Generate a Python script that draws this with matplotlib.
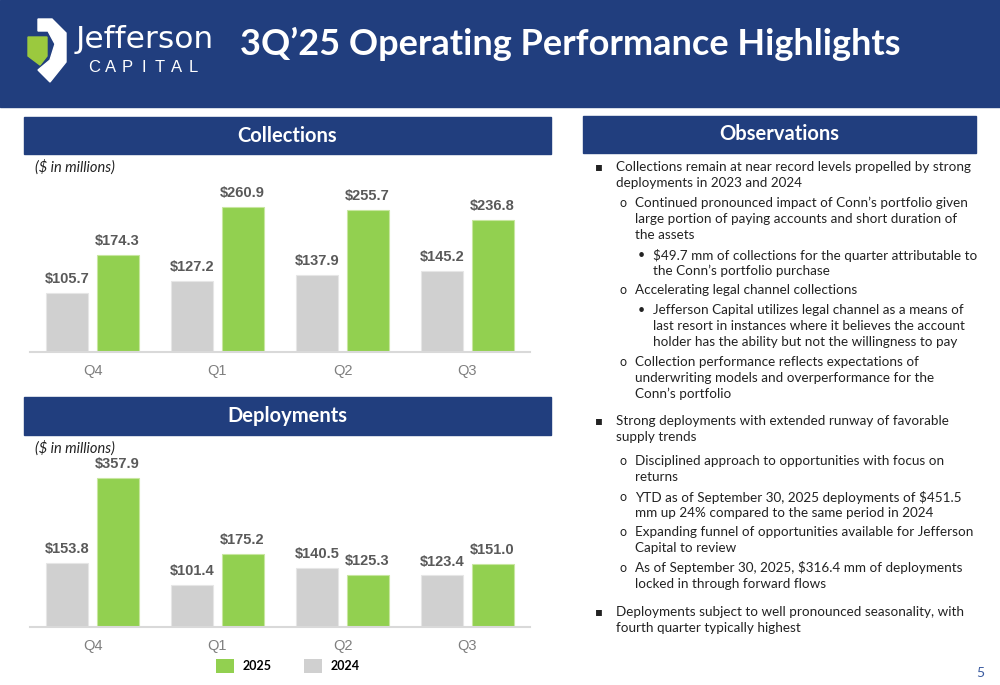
import matplotlib
matplotlib.use("Agg")
import matplotlib.pyplot as plt
from matplotlib.patches import Rectangle, Polygon

# ---- data ----
quarters = ["Q4", "Q1", "Q2", "Q3"]
coll_2024 = [105.7, 127.2, 137.9, 145.2]
coll_2025 = [174.3, 260.9, 255.7, 236.8]
depl_2024 = [153.8, 101.4, 140.5, 123.4]
depl_2025 = [357.9, 175.2, 125.3, 151.0]
series_names = ["2025", "2024"]

title = "3Q\u201925 Operating Performance Highlights"

# (level, lines, y of first line in px)
observations = [
    (0, ["Collections remain at near record levels propelled by strong",
         "deployments in 2023 and 2024"], 167),
    (1, ["Continued pronounced impact of Conn\u2019s portfolio given",
         "large portion of paying accounts and short duration of",
         "the assets"], 203),
    (2, ["$49.7 mm of collections for the quarter attributable to",
         "the Conn\u2019s portfolio purchase"], 255),
    (1, ["Accelerating legal channel collections"], 290),
    (2, ["Jefferson Capital utilizes legal channel as a means of",
         "last resort in instances where it believes the account",
         "holder has the ability but not the willingness to pay"], 310),
    (1, ["Collection performance reflects expectations of",
         "underwriting models and overperformance for the",
         "Conn\u2019s portfolio"], 362),
    (0, ["Strong deployments with extended runway of favorable",
         "supply trends"], 421),
    (1, ["Disciplined approach to opportunities with focus on",
         "returns"], 461),
    (1, ["YTD as of September 30, 2025 deployments of $451.5",
         "mm up 24% compared to the same period in 2024"], 497),
    (1, ["Expanding funnel of opportunities available for Jefferson",
         "Capital to review"], 532),
    (1, ["As of September 30, 2025, $316.4 mm of deployments",
         "locked in through forward flows"], 568),
    (0, ["Deployments subject to well pronounced seasonality, with",
         "fourth quarter typically highest"], 612),
]

NAVY = "#213E7E"
GREEN = "#92D050"
GRAY = "#D0D0D0"
W, H = 1000, 685

fig = plt.figure(figsize=(10, 6.85), dpi=100)


def fx(x):
    return x / W


def fy(y):
    return 1 - y / H


def box(x0, y0, x1, y1, color):
    fig.patches.append(Rectangle((fx(x0), fy(y1)), fx(x1) - fx(x0), fy(y0) - fy(y1),
                                 transform=fig.transFigure, color=color, zorder=0))


# header band
box(0, 0, W, 107, NAVY)
fig.text(fx(240), fy(44), title, color="white", fontsize=26, fontweight="bold",
         family="Lato", va="center", ha="left")

# logo
fig.patches.append(Polygon([(fx(38), fy(19)), (fx(52), fy(19)), (fx(66), fy(33)), (fx(66), fy(62)),
                            (fx(50), fy(82)), (fx(38), fy(70)), (fx(50), fy(60)), (fx(55), fy(44)),
                            (fx(48), fy(31)), (fx(38), fy(31))],
                           closed=True, transform=fig.transFigure, color="white"))
fig.patches.append(Polygon([(fx(28), fy(37)), (fx(47), fy(37)), (fx(47), fy(56)), (fx(40), fy(65)),
                            (fx(28), fy(56))],
                           closed=True, transform=fig.transFigure, color="#9BC93E"))
fig.text(fx(76), fy(40), "Jefferson", color="white", fontsize=22.5, family="Liberation Sans Narrow",
         va="center", ha="left")
for i, ch in enumerate("CAPITAL"):
    fig.text(fx(94 + i * 16.5), fy(68), ch, color="white", fontsize=12, family="Liberation Sans",
             va="center", ha="center")

# panel headers
box(24, 117, 551, 154, NAVY)
fig.text(fx(287), fy(135.5), "Collections", color="white", fontsize=14.5, fontweight="bold",
         family="Lato", ha="center", va="center")
box(24, 397, 551, 435, NAVY)
fig.text(fx(287), fy(416), "Deployments", color="white", fontsize=14.5, fontweight="bold",
         family="Lato", ha="center", va="center")
box(583, 116, 976, 153, NAVY)
fig.text(fx(779), fy(134.5), "Observations", color="white", fontsize=14.5, fontweight="bold",
         family="Lato", ha="center", va="center")

fig.text(fx(35), fy(167), "($ in millions)", fontsize=10.5, style="italic", family="Lato",
         va="center", ha="left", color="#222222")
fig.text(fx(35), fy(448), "($ in millions)", fontsize=10.5, style="italic", family="Lato",
         va="center", ha="left", color="#222222")


def bar_chart(baseline_px, top_px, ymax, v24, v25):
    ax = fig.add_axes([fx(30), fy(baseline_px), 0.5, (baseline_px - top_px) / H])
    xs = range(len(quarters))
    b24 = ax.bar([i - 0.204 for i in xs], v24, width=0.336, color=GRAY, edgecolor="#E6E6E6", lw=0.8)
    b25 = ax.bar([i + 0.2 for i in xs], v25, width=0.336, color=GREEN, edgecolor="#C8E6A0", lw=0.8)
    for bars, vals in ((b24, v24), (b25, v25)):
        for r, v in zip(bars, vals):
            ax.annotate(f"${v:.1f}", (r.get_x() + r.get_width() / 2, v), xytext=(0, 5),
                        textcoords="offset points", ha="center", va="bottom",
                        fontsize=10.5, fontweight="bold", color="#595959", family="Liberation Sans")
    ax.set_xlim(-0.5, 3.5)
    ax.set_ylim(0, ymax)
    ax.set_xticks(list(xs))
    ax.set_xticklabels(quarters, fontsize=10.5, color="#7F7F7F", family="Liberation Sans")
    ax.tick_params(axis="x", length=0, pad=9)
    ax.set_yticks([])
    for s in ("top", "right", "left"):
        ax.spines[s].set_visible(False)
    ax.spines["bottom"].set_color("#D9D9D9")
    ax.spines["bottom"].set_linewidth(1.5)
    ax.patch.set_alpha(0)
    return ax, b24, b25


bar_chart(352, 185.3, 300, coll_2024, coll_2025)
ax2, d24, d25 = bar_chart(626.7, 460.7, 400, depl_2024, depl_2025)

leg = ax2.legend([d25, d24], series_names, loc="center", bbox_to_anchor=(fx(288), fy(666)),
                 bbox_transform=fig.transFigure, ncol=2, frameon=False, handlelength=1.4,
                 handleheight=1.3, columnspacing=2.6, handletextpad=0.7,
                 prop={"family": "Lato", "weight": "bold", "size": 9})
for h in leg.legend_handles:
    h.set_edgecolor("none")

# observations text
bullet = {0: ("\u25aa", 595, 616, 8.5), 1: ("o", 619, 635, 9), 2: ("\u2022", 638, 653, 9)}
for level, lines, y0 in observations:
    sym, bx, tx, bs = bullet[level]
    fig.text(fx(bx), fy(y0), sym, fontsize=bs, family=["DejaVu Sans"] if level == 0 else ["Lato"],
             va="center", ha="left", color="#222222")
    for k, line in enumerate(lines):
        fig.text(fx(tx), fy(y0 + 16 * k), line, fontsize=9.7, family=["Lato", "DejaVu Sans"],
                 va="center", ha="left", color="#222222")

fig.text(fx(980), fy(673), "5", fontsize=10, color="#3A5BA0", family="Lato", va="center", ha="center")

fig.savefig("out.png", dpi=100)
